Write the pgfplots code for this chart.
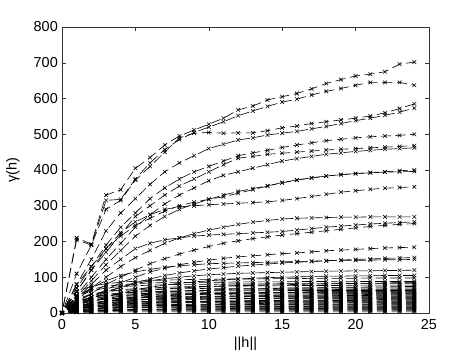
\documentclass[border=0pt]{standalone}
\usepackage{fontspec}
\setmainfont{Liberation Sans}
\usepackage{pgfplots}
\pgfplotsset{compat=1.18}
\newcommand\cv[2]{\addplot coordinates {(0,0)(1,#1)(1,nan)(1,#1)#2};}
\begin{document}
\begin{tikzpicture}
\useasboundingbox (-62bp,-42bp) rectangle (412bp,313bp);
\begin{axis}[
 at={(0,0)}, anchor=south west,
 scale only axis, width=367bp, height=286bp,
 xmin=0, xmax=25, ymin=0, ymax=800,
 xtick={0,5,...,25}, ytick={0,100,...,800},
 tick align=inside, tick pos=both, major tick length=4bp,
 /pgf/number format/assume math mode=true,
 tick label style={font=\fontsize{14.5}{15}\selectfont},
 yticklabel style={inner sep=0pt, xshift=-4bp},
 xticklabel style={inner sep=0pt, yshift=-6bp},
 xlabel={||h||}, ylabel={γ(h)},
 label style={font=\fontsize{14.5}{15}\selectfont},
 xlabel style={at={(axis description cs:0.5,-0.1084)}, anchor=center},
 ylabel style={at={(axis description cs:-0.1335,0.5)}, anchor=center},
 axis line style={line width=0.6bp, black!80},
 every tick/.style={line width=0.5bp, black!80},
 unbounded coords=jump,
 cycle list={{black, mark=x}},
 every axis plot post/.append style={black, line width=0.6bp, mark=x, mark size=2.6bp, mark options={solid, black, line width=0.55bp, fill=none},
   dash pattern=on 2bp off 4.6bp on 8.08bp off 0bp},
]
% upper curves
\cv{210}{(2,193)(3,330)(4,345)(5,405)(6,435)(7,470)(8,495)(9,512)(10,528)(11,545)(12,568)(13,579)(14,596)(15,605)(16,614)(17,627)(18,642)(19,653)(20,663)(21,668)(22,675)(23,696)(24,702)}
\cv{205}{(2,190)(3,315)(4,318)(5,375)(6,420)(7,457)(8,485)(9,505)(10,520)(11,535)(12,552)(13,565)(14,578)(15,590)(16,598)(17,610)(18,620)(19,628)(20,637)(21,645)(22,645)(23,645)(24,637)}
\cv{110}{(2,190)(3,290)(4,315)(5,372)(6,410)(7,450)(8,490)(9,503)(10,505)(11,503)(12,504)(13,504)(14,510)(15,518)(16,523)(17,530)(18,535)(19,540)(20,545)(21,551)(22,560)(23,572)(24,585)}
\cv{80}{(2,150)(3,230)(4,280)(5,320)(6,360)(7,395)(8,420)(9,440)(10,460)(11,472)(12,484)(13,490)(14,498)(15,503)(16,508)(17,515)(18,522)(19,530)(20,538)(21,545)(22,553)(23,562)(24,573)}
\cv{70}{(2,130)(3,190)(4,240)(5,280)(6,320)(7,350)(8,375)(9,395)(10,410)(11,425)(12,440)(13,448)(14,455)(15,463)(16,470)(17,476)(18,482)(19,486)(20,490)(21,493)(22,495)(23,497)(24,500)}
\cv{60}{(2,120)(3,170)(4,220)(5,270)(6,300)(7,330)(8,355)(9,375)(10,395)(11,415)(12,433)(13,438)(14,444)(15,447)(16,450)(17,453)(18,456)(19,458)(20,460)(21,462)(22,464)(23,466)(24,468)}
\cv{50}{(2,100)(3,150)(4,195)(5,240)(6,275)(7,305)(8,330)(9,350)(10,370)(11,385)(12,395)(13,405)(14,415)(15,425)(16,432)(17,438)(18,444)(19,448)(20,452)(21,455)(22,458)(23,460)(24,462)}
\cv{45}{(2,90)(3,135)(4,175)(5,215)(6,245)(7,270)(8,290)(9,305)(10,318)(11,330)(12,340)(13,348)(14,356)(15,364)(16,372)(17,378)(18,383)(19,387)(20,390)(21,393)(22,395)(23,398)(24,400)}
\cv{80}{(2,130)(3,180)(4,215)(5,245)(6,265)(7,285)(8,300)(9,310)(10,318)(11,325)(12,335)(13,345)(14,355)(15,365)(16,372)(17,378)(18,383)(19,387)(20,390)(21,392)(22,394)(23,395)(24,396)}
\cv{60}{(2,120)(3,180)(4,225)(5,255)(6,275)(7,290)(8,297)(9,300)(10,303)(11,305)(12,307)(13,309)(14,311)(15,315)(16,320)(17,326)(18,332)(19,338)(20,342)(21,346)(22,349)(23,351)(24,353)}
\cv{35}{(2,70)(3,100)(4,130)(5,155)(6,175)(7,195)(8,210)(9,222)(10,232)(11,240)(12,248)(13,254)(14,259)(15,263)(16,265)(17,266)(18,267)(19,268)(20,268)(21,269)(22,269)(23,269)(24,269)}
\cv{40}{(2,80)(3,120)(4,150)(5,180)(6,195)(7,205)(8,210)(9,215)(10,218)(11,220)(12,222)(13,224)(14,226)(15,228)(16,232)(17,236)(18,240)(19,243)(20,246)(21,249)(22,251)(23,253)(24,255)}
\cv{28}{(2,55)(3,80)(4,100)(5,120)(6,138)(7,152)(8,165)(9,176)(10,186)(11,195)(12,202)(13,208)(14,213)(15,218)(16,222)(17,226)(18,230)(19,234)(20,238)(21,242)(22,245)(23,248)(24,250)}
\cv{25}{(2,45)(3,65)(4,85)(5,100)(6,115)(7,125)(8,135)(9,142)(10,148)(11,153)(12,157)(13,160)(14,163)(15,166)(16,168)(17,171)(18,174)(19,176)(20,178)(21,180)(22,182)(23,183)(24,184)}
\cv{20}{(2,40)(3,58)(4,72)(5,85)(6,95)(7,105)(8,112)(9,118)(10,123)(11,127)(12,131)(13,134)(14,137)(15,140)(16,142)(17,144)(18,146)(19,148)(20,150)(21,151)(22,153)(23,154)(24,155)}
\cv{45}{(2,70)(3,90)(4,105)(5,115)(6,122)(7,128)(8,132)(9,135)(10,138)(11,139)(12,140)(13,141)(14,142)(15,143)(16,144)(17,145)(18,146)(19,147)(20,147)(21,148)(22,149)(23,149)(24,150)}
\cv{25}{(2,45)(3,60)(4,72)(5,82)(6,90)(7,96)(8,100)(9,104)(10,107)(11,109)(12,111)(13,112)(14,113)(15,114)(16,115)(17,116)(18,117)(19,117)(20,118)(21,118)(22,119)(23,119)(24,120)}
\cv{15}{(2,30)(3,45)(4,55)(5,65)(6,72)(7,78)(8,83)(9,87)(10,90)(11,93)(12,95)(13,97)(14,99)(15,100)(16,101)(17,102)(18,103)(19,103)(20,104)(21,104)(22,105)(23,105)(24,105)}
\cv{60}{(2,75)(3,82)(4,86)(5,89)(6,91)(7,92)(8,93)(9,94)(10,94)(11,95)(12,95)(13,95)(14,96)(15,96)(16,96)(17,97)(18,97)(19,97)(20,97)(21,98)(22,98)(23,98)(24,98)}
% dense lower curves
\cv{48}{(2,66)(3,75)(4,79)(5,82)(6,84)(7,85)(8,85)(9,86)(10,86)(11,86)(12,87)(13,87)(14,87)(15,87)(16,88)(17,88)(18,88)(19,87)(20,88)(21,88)(22,88)(23,88)(24,88)}
\cv{26}{(2,38)(3,47)(4,54)(5,60)(6,64)(7,67)(8,70)(9,72)(10,74)(11,76)(12,77)(13,77)(14,78)(15,79)(16,80)(17,81)(18,82)(19,82)(20,83)(21,83)(22,84)(23,85)(24,85)}
\cv{45}{(2,62)(3,70)(4,74)(5,76)(6,78)(7,79)(8,80)(9,80)(10,80)(11,81)(12,81)(13,81)(14,81)(15,82)(16,82)(17,82)(18,81)(19,82)(20,82)(21,82)(22,82)(23,82)(24,82)}
\cv{35}{(2,52)(3,60)(4,65)(5,68)(6,70)(7,72)(8,73)(9,74)(10,74)(11,75)(12,75)(13,76)(14,76)(15,76)(16,77)(17,77)(18,77)(19,77)(20,78)(21,78)(22,78)(23,78)(24,78)}
\cv{22}{(2,33)(3,41)(4,47)(5,52)(6,56)(7,58)(8,61)(9,63)(10,64)(11,66)(12,67)(13,67)(14,68)(15,69)(16,70)(17,70)(18,71)(19,72)(20,72)(21,73)(22,73)(23,74)(24,74)}
\cv{39}{(2,53)(3,60)(4,63)(5,65)(6,67)(7,67)(8,68)(9,68)(10,69)(11,69)(12,69)(13,69)(14,69)(15,70)(16,70)(17,70)(18,70)(19,70)(20,70)(21,70)(22,70)(23,70)(24,70)}
\cv{30}{(2,44)(3,51)(4,55)(5,58)(6,60)(7,61)(8,62)(9,63)(10,63)(11,64)(12,64)(13,64)(14,65)(15,65)(16,65)(17,65)(18,65)(19,66)(20,66)(21,66)(22,66)(23,66)(24,66)}
\cv{19}{(2,28)(3,34)(4,39)(5,43)(6,47)(7,49)(8,51)(9,53)(10,54)(11,55)(12,56)(13,56)(14,57)(15,58)(16,58)(17,59)(18,60)(19,60)(20,60)(21,61)(22,61)(23,62)(24,62)}
\cv{32}{(2,44)(3,49)(4,52)(5,54)(6,55)(7,56)(8,56)(9,56)(10,57)(11,57)(12,57)(13,57)(14,57)(15,57)(16,58)(17,58)(18,58)(19,58)(20,58)(21,58)(22,58)(23,58)(24,58)}
\cv{25}{(2,36)(3,42)(4,46)(5,48)(6,50)(7,51)(8,51)(9,52)(10,52)(11,52)(12,53)(13,53)(14,53)(15,53)(16,53)(17,53)(18,54)(19,54)(20,54)(21,54)(22,54)(23,54)(24,54)}
\cv{15}{(2,23)(3,28)(4,32)(5,35)(6,38)(7,40)(8,41)(9,43)(10,44)(11,45)(12,45)(13,46)(14,46)(15,47)(16,47)(17,48)(18,48)(19,49)(20,49)(21,49)(22,50)(23,50)(24,50)}
\cv{25}{(2,35)(3,39)(4,41)(5,43)(6,44)(7,44)(8,45)(9,45)(10,45)(11,45)(12,45)(13,46)(14,46)(15,46)(16,46)(17,46)(18,46)(19,46)(20,46)(21,46)(22,46)(23,46)(24,46)}
\cv{19}{(2,28)(3,33)(4,36)(5,38)(6,39)(7,40)(8,40)(9,41)(10,41)(11,41)(12,41)(13,41)(14,42)(15,42)(16,42)(17,42)(18,42)(19,42)(20,42)(21,42)(22,42)(23,42)(24,42)}
\cv{11}{(2,17)(3,21)(4,24)(5,27)(6,29)(7,30)(8,31)(9,32)(10,33)(11,34)(12,34)(13,35)(14,35)(15,35)(16,36)(17,36)(18,36)(19,37)(20,37)(21,37)(22,38)(23,38)(24,38)}
\cv{19}{(2,26)(3,29)(4,31)(5,32)(6,32)(7,33)(8,33)(9,33)(10,33)(11,33)(12,33)(13,34)(14,34)(15,34)(16,34)(17,34)(18,34)(19,34)(20,34)(21,34)(22,34)(23,34)(24,34)}
\cv{14}{(2,20)(3,23)(4,25)(5,27)(6,28)(7,28)(8,29)(9,29)(10,29)(11,29)(12,29)(13,29)(14,30)(15,30)(16,30)(17,30)(18,30)(19,30)(20,30)(21,30)(22,30)(23,30)(24,30)}
\cv{8}{(2,12)(3,14)(4,16)(5,18)(6,20)(7,21)(8,21)(9,22)(10,23)(11,23)(12,23)(13,24)(14,24)(15,24)(16,24)(17,25)(18,25)(19,25)(20,25)(21,25)(22,26)(23,26)(24,26)}
\cv{12}{(2,17)(3,19)(4,20)(5,21)(6,21)(7,21)(8,21)(9,21)(10,22)(11,22)(12,22)(13,22)(14,22)(15,22)(16,22)(17,22)(18,22)(19,22)(20,22)(21,22)(22,22)(23,22)(24,22)}
\cv{8}{(2,12)(3,14)(4,15)(5,16)(6,17)(7,17)(8,17)(9,17)(10,17)(11,18)(12,18)(13,18)(14,18)(15,18)(16,18)(17,18)(18,18)(19,18)(20,18)(21,18)(22,18)(23,18)(24,18)}
\cv{4}{(2,6)(3,8)(4,9)(5,10)(6,11)(7,11)(8,12)(9,12)(10,12)(11,12)(12,13)(13,13)(14,13)(15,13)(16,13)(17,13)(18,13)(19,14)(20,14)(21,14)(22,14)(23,14)(24,14)}
\cv{6}{(2,8)(3,9)(4,9)(5,9)(6,10)(7,10)(8,10)(9,10)(10,10)(11,10)(12,10)(13,10)(14,10)(15,10)(16,10)(17,10)(18,10)(19,10)(20,10)(21,10)(22,10)(23,10)(24,10)}
\cv{3}{(2,5)(3,5)(4,6)(5,6)(6,6)(7,6)(8,6)(9,6)(10,6)(11,6)(12,6)(13,6)(14,6)(15,6)(16,6)(17,6)(18,6)(19,6)(20,6)(21,6)(22,6)(23,6)(24,6)}
\cv{2}{(2,2)(3,3)(4,3)(5,3)(6,3)(7,3)(8,3)(9,3)(10,3)(11,3)(12,3)(13,3)(14,3)(15,3)(16,3)(17,3)(18,3)(19,3)(20,3)(21,3)(22,3)(23,3)(24,3)}
% additional dense curves
\cv{30}{(2,45)(3,52)(4,56)(5,58)(6,60)(7,60)(8,61)(9,61)(10,62)(11,62)(12,62)(13,62)(14,62)(15,63)(16,63)(17,63)(18,63)(19,63)(20,63)(21,63)(22,63)(23,63)(24,63)}
\cv{17}{(2,26)(3,33)(4,38)(5,42)(6,45)(7,48)(8,50)(9,52)(10,53)(11,54)(12,55)(13,56)(14,57)(15,57)(16,58)(17,58)(18,59)(19,59)(20,59)(21,60)(22,60)(23,60)(24,60)}
\cv{28}{(2,40)(3,46)(4,49)(5,51)(6,52)(7,53)(8,54)(9,54)(10,55)(11,55)(12,55)(13,55)(14,55)(15,56)(16,56)(17,56)(18,56)(19,56)(20,56)(21,56)(22,56)(23,56)(24,56)}
\cv{14}{(2,22)(3,28)(4,32)(5,36)(6,39)(7,41)(8,43)(9,45)(10,46)(11,47)(12,48)(13,48)(14,49)(15,50)(16,50)(17,50)(18,51)(19,51)(20,51)(21,52)(22,52)(23,52)(24,52)}
\cv{22}{(2,33)(3,39)(4,42)(5,44)(6,45)(7,46)(8,46)(9,47)(10,47)(11,47)(12,47)(13,48)(14,48)(15,48)(16,48)(17,48)(18,48)(19,48)(20,48)(21,48)(22,48)(23,48)(24,48)}
\cv{12}{(2,19)(3,24)(4,28)(5,31)(6,33)(7,35)(8,36)(9,38)(10,39)(11,40)(12,40)(13,41)(14,41)(15,42)(16,42)(17,43)(18,43)(19,43)(20,44)(21,44)(22,44)(23,44)(24,44)}
\cv{18}{(2,27)(3,32)(4,35)(5,37)(6,38)(7,38)(8,39)(9,39)(10,39)(11,39)(12,40)(13,40)(14,40)(15,40)(16,40)(17,40)(18,40)(19,40)(20,40)(21,40)(22,40)(23,40)(24,40)}
\cv{10}{(2,16)(3,20)(4,23)(5,25)(6,27)(7,28)(8,29)(9,30)(10,31)(11,32)(12,32)(13,33)(14,33)(15,34)(16,34)(17,34)(18,35)(19,35)(20,35)(21,36)(22,36)(23,36)(24,36)}
\cv{16}{(2,23)(3,27)(4,29)(5,30)(6,31)(7,31)(8,31)(9,32)(10,32)(11,32)(12,32)(13,32)(14,32)(15,32)(16,32)(17,32)(18,32)(19,32)(20,32)(21,32)(22,32)(23,32)(24,32)}
\cv{8}{(2,13)(3,16)(4,18)(5,20)(6,22)(7,23)(8,24)(9,25)(10,25)(11,26)(12,26)(13,26)(14,27)(15,27)(16,27)(17,27)(18,27)(19,28)(20,28)(21,28)(22,28)(23,28)(24,28)}
\cv{12}{(2,18)(3,21)(4,22)(5,23)(6,23)(7,23)(8,24)(9,24)(10,24)(11,24)(12,24)(13,24)(14,24)(15,24)(16,24)(17,24)(18,24)(19,24)(20,24)(21,24)(22,24)(23,24)(24,24)}
\cv{6}{(2,9)(3,12)(4,14)(5,15)(6,16)(7,17)(8,17)(9,18)(10,18)(11,18)(12,19)(13,19)(14,19)(15,19)(16,19)(17,19)(18,20)(19,20)(20,20)(21,20)(22,20)(23,20)(24,20)}
\cv{8}{(2,12)(3,14)(4,15)(5,15)(6,16)(7,16)(8,16)(9,16)(10,16)(11,16)(12,16)(13,16)(14,16)(15,16)(16,16)(17,16)(18,16)(19,16)(20,16)(21,16)(22,16)(23,16)(24,16)}
\cv{4}{(2,6)(3,8)(4,9)(5,10)(6,10)(7,11)(8,11)(9,11)(10,11)(11,11)(12,12)(13,12)(14,12)(15,12)(16,12)(17,12)(18,12)(19,12)(20,12)(21,12)(22,12)(23,12)(24,12)}
\cv{4}{(2,6)(3,7)(4,7)(5,8)(6,8)(7,8)(8,8)(9,8)(10,8)(11,8)(12,8)(13,8)(14,8)(15,8)(16,8)(17,8)(18,8)(19,8)(20,8)(21,8)(22,8)(23,8)(24,8)}
\end{axis}
\end{tikzpicture}
\end{document}
